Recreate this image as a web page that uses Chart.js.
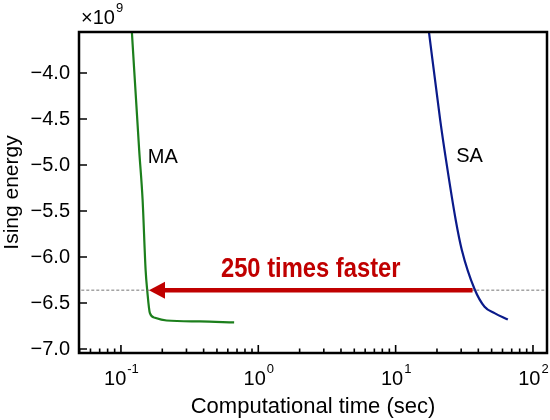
<!DOCTYPE html>
<html>
<head>
<meta charset="utf-8">
<script src="https://cdn.jsdelivr.net/npm/chart.js@4"></script>
<style>
  html, body { margin: 0; padding: 0; background: #fff; }
  #wrap { width: 550px; height: 420px; }
</style>
</head>
<body>
<div id="wrap"><canvas id="chart" width="550" height="420"></canvas></div>
<script>
// energies in units of 1e9
const maTime = [0.1195, 0.1358, 0.1438, 0.1512, 0.1553, 0.1625, 0.1767, 0.215, 0.375, 0.667];
const maEnergy = [-3.50, -4.84, -5.38, -6.14, -6.36, -6.61, -6.66, -6.69, -6.70, -6.71];

const saTime = [17.3, 21.1, 23.3, 27.4, 30.3, 37.6, 44.4, 52.5, 65.6];
const saEnergy = [-3.50, -4.51, -4.95, -5.60, -5.92, -6.35, -6.54, -6.61, -6.68];

const yTicks = [-4.0, -4.5, -5.0, -5.5, -6.0, -6.5, -7.0];
const xDecades = [0.1, 1, 10, 100];
const xDecadeLabels = ['-1', '0', '1', '2'];

const refEnergy = -6.36;     // dashed reference level
const arrowFrom = 36.3;      // SA time at reference level
const arrowTo = 0.16;        // MA time at reference level

const FONT = "'Liberation Sans', Arial, sans-serif";

function toPoints(xs, ys) {
    return xs.map((x, i) => ({ x: x, y: ys[i] }));
}

// minor + major ticks for the log axis
const xTickValues = [];
for (const d of [0.01, 0.1, 1, 10]) {
    for (let m = 1; m <= 9; m++) {
        const v = +(d * m).toPrecision(3);
        if (v >= 0.05 && v <= 126) xTickValues.push(v);
    }
}
xTickValues.push(100);

const decorations = {
    id: 'decorations',
    afterDatasetsDraw(chart) {
        const ctx = chart.ctx;
        const a = chart.chartArea;
        const xs = chart.scales.x;
        const ys = chart.scales.y;
        ctx.save();

        // arrow
        const yA = ys.getPixelForValue(refEnergy);
        const xTail = xs.getPixelForValue(arrowFrom);
        const xTip = xs.getPixelForValue(arrowTo);
        ctx.strokeStyle = '#c00000';
        ctx.fillStyle = '#c00000';
        ctx.lineWidth = 4.5;
        ctx.beginPath();
        ctx.moveTo(xTail, yA);
        ctx.lineTo(xTip + 14, yA);
        ctx.stroke();
        ctx.beginPath();
        ctx.moveTo(xTip, yA);
        ctx.lineTo(xTip + 16, yA - 8.5);
        ctx.lineTo(xTip + 16, yA + 8.5);
        ctx.closePath();
        ctx.fill();

        // condensed bold caption
        ctx.save();
        ctx.translate((xTail + xTip) / 2, yA - 13);
        ctx.scale(0.88, 1);
        ctx.font = 'bold 27px ' + FONT;
        ctx.textAlign = 'center';
        ctx.textBaseline = 'alphabetic';
        ctx.fillText('250 times faster', 0, 0);
        ctx.restore();

        // series labels
        ctx.fillStyle = '#000';
        ctx.font = '20px ' + FONT;
        ctx.textAlign = 'left';
        ctx.textBaseline = 'middle';
        ctx.fillText('MA', xs.getPixelForValue(0.157), ys.getPixelForValue(-4.92));
        ctx.fillText('SA', xs.getPixelForValue(27.6), ys.getPixelForValue(-4.91));

        // frame
        ctx.strokeStyle = '#000';
        ctx.lineWidth = 2.5;
        ctx.strokeRect(a.left, a.top, a.right - a.left, a.bottom - a.top);

        // inward ticks
        ctx.lineWidth = 1.6;
        ctx.beginPath();
        for (const v of xTickValues) {
            const px = xs.getPixelForValue(v);
            const len = xDecades.includes(v) ? 8 : 4.5;
            ctx.moveTo(px, a.bottom);
            ctx.lineTo(px, a.bottom - len);
        }
        for (const v of yTicks) {
            const py = ys.getPixelForValue(v);
            ctx.moveTo(a.left, py);
            ctx.lineTo(a.left + 8, py);
        }
        ctx.stroke();

        // x tick labels with superscript exponents
        ctx.fillStyle = '#000';
        ctx.textBaseline = 'alphabetic';
        xDecades.forEach((v, i) => {
            const px = xs.getPixelForValue(v);
            ctx.font = '20px ' + FONT;
            const wBase = ctx.measureText('10').width;
            ctx.font = '13px ' + FONT;
            const wExp = ctx.measureText(xDecadeLabels[i]).width;
            const x0 = px - (wBase + wExp) / 2;
            ctx.font = '20px ' + FONT;
            ctx.textAlign = 'left';
            ctx.fillText('10', x0, a.bottom + 32);
            ctx.font = '13px ' + FONT;
            ctx.fillText(xDecadeLabels[i], x0 + wBase + 1, a.bottom + 20);
        });

        // axis multiplier
        ctx.font = '20px ' + FONT;
        ctx.textAlign = 'left';
        ctx.fillText('\u00d710', a.left + 2, a.top - 8);
        const wm = ctx.measureText('\u00d710').width;
        ctx.font = '13px ' + FONT;
        ctx.fillText('9', a.left + 3 + wm, a.top - 20);

        ctx.restore();
    }
};

const ctx = document.getElementById('chart').getContext('2d');

const chart = new Chart(ctx, {
    type: 'line',
    data: {
        datasets: [
            {
                label: 'ref',
                data: [{ x: 0.04, y: refEnergy }, { x: 200, y: refEnergy }],
                borderColor: '#666',
                borderWidth: 0.9,
                borderDash: [3, 2],
                pointRadius: 0
            },
            {
                label: 'MA',
                data: toPoints(maTime, maEnergy),
                borderColor: '#1c7f1c',
                borderWidth: 2.2,
                pointRadius: 0,
                cubicInterpolationMode: 'monotone'
            },
            {
                label: 'SA',
                data: toPoints(saTime, saEnergy),
                borderColor: '#0a1a8a',
                borderWidth: 2.2,
                pointRadius: 0,
                cubicInterpolationMode: 'monotone'
            }
        ]
    },
    options: {
        responsive: false,
        animation: false,
        layout: { padding: { left: 0, top: 32, right: 3, bottom: 0 } },
        plugins: {
            legend: { display: false },
            tooltip: { enabled: false }
        },
        scales: {
            x: {
                type: 'logarithmic',
                min: 0.0495,
                max: 126.5,
                grid: { display: false, drawTicks: false },
                border: { display: false },
                ticks: { display: false },
                afterFit(scale) { scale.height = 67; },
                title: {
                    display: true,
                    text: 'Computational time (sec)',
                    color: '#000',
                    font: { family: FONT, size: 22 },
                    padding: { top: 0, bottom: 0 }
                }
            },
            y: {
                type: 'linear',
                min: -7.043,
                max: -3.554,
                grid: { display: false, drawTicks: false },
                border: { display: false },
                afterBuildTicks(scale) {
                    scale.ticks = yTicks.map(v => ({ value: v }));
                },
                afterFit(scale) { scale.width = 79; },
                ticks: {
                    color: '#000',
                    padding: 9,
                    font: { family: FONT, size: 20 },
                    callback: v => (v < 0 ? '\u2212' : '') + Math.abs(v).toFixed(1)
                },
                title: {
                    display: true,
                    text: 'Ising energy',
                    color: '#000',
                    font: { family: FONT, size: 21 },
                    padding: { top: 0, bottom: 0 }
                }
            }
        }
    },
    plugins: [decorations]
});
</script>
</body>
</html>
